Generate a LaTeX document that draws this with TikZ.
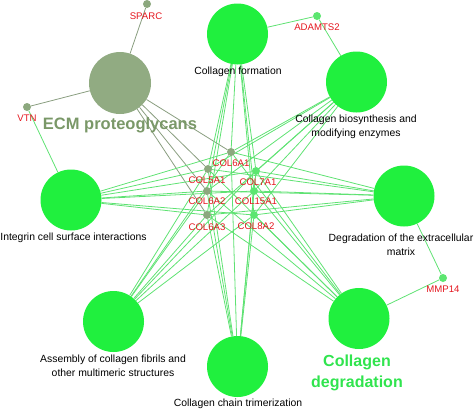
\documentclass[tikz,border=0pt]{standalone}
\usepackage{fontspec}
\setmainfont{Liberation Sans}
\usetikzlibrary{backgrounds}
\definecolor{bigGreen}{RGB}{32,240,62}
\definecolor{ecmGray}{RGB}{145,171,130}
\definecolor{ecmText}{RGB}{122,152,104}
\definecolor{degText}{RGB}{48,228,78}
\definecolor{edgeGreen}{RGB}{95,226,115}
\definecolor{edgeGray}{RGB}{138,158,128}
\definecolor{smallGreen}{RGB}{92,230,112}
\definecolor{smallGray}{RGB}{140,168,126}
\definecolor{geneRed}{RGB}{228,22,30}
\tikzset{
  bigc/.style={circle, minimum size=61pt, inner sep=0pt, fill=bigGreen},
  ecmc/.style={circle, minimum size=62pt, inner sep=0pt, fill=ecmGray},
  gene/.style={circle, minimum size=8pt, inner sep=0pt, fill=smallGreen},
  geneg/.style={circle, minimum size=8pt, inner sep=0pt, fill=smallGray},
  glab/.style={text=geneRed, font=\fontsize{9.6}{11}\selectfont, inner sep=0pt},
  blab/.style={text=black, font=\fontsize{10.4}{13.5}\selectfont, align=center, inner sep=0pt},
  eg/.style={draw=edgeGreen, line width=0.8pt},
  ey/.style={draw=edgeGray, line width=0.8pt},
}
\begin{document}
\begin{tikzpicture}[x=1pt,y=-1pt]
\useasboundingbox (0,0) rectangle (474,410);
% big circles
\node[ecmc] (ecm) at (120,83) {};
\node[bigc] (cf) at (237.5,34) {};
\node[bigc] (cb) at (356.5,82) {};
\node[bigc] (dm) at (404,196) {};
\node[bigc] (cd) at (359,318.5) {};
\node[bigc] (ct) at (237.5,366.5) {};
\node[bigc] (as) at (113.5,321.5) {};
\node[bigc] (ig) at (71,200) {};
% small nodes
\node[geneg] (sparc) at (147,4) {};
\node[geneg] (vtn) at (27,107) {};
\node[gene] (adamts) at (317,16) {};
\node[gene] (mmp) at (443,278) {};
\node[geneg] (g6a1) at (231,152) {};
\node[geneg] (g5a1) at (208,169) {};
\node[gene] (g7a1) at (256,171) {};
\node[geneg] (g6a2) at (207,191) {};
\node[gene] (g15a1) at (254,191) {};
\node[geneg] (g6a3) at (207,215) {};
\node[gene] (g8a2) at (254,215) {};
% gene labels
\node[glab] (lsparc) at (146,16) {SPARC};
\node[glab] (lvtn) at (27,118) {VTN};
\node[glab] (ladamts) at (317,27.5) {ADAMTS2};
\node[glab] (lmmp) at (443,289) {MMP14};
\node[glab] (l6a1) at (231,163) {COL6A1};
\node[glab] (l5a1) at (207,180) {COL5A1};
\node[glab] (l7a1) at (258,182) {COL7A1};
\node[glab] (l6a2) at (207,201.5) {COL6A2};
\node[glab] (l15a1) at (256,201.5) {COL15A1};
\node[glab] (l6a3) at (207,227) {COL6A3};
\node[glab] (l8a2) at (256,226) {COL8A2};
% pathway labels
\node[blab] (lcf) at (238,72) {Collagen formation};
\node[blab] (lcb) at (356,127) {Collagen biosynthesis and\\modifying enzymes};
\node[blab] (ldm) at (401,245) {Degradation of the extracellular\\matrix};
\node[blab] (lct) at (238,404) {Collagen chain trimerization};
\node[blab] (las) at (113,366) {Assembly of collagen fibrils and\\other multimeric structures};
\node[blab] (lig) at (73.5,238) {Integrin cell surface interactions};
\node[text=ecmText, font=\bfseries\fontsize{16.5}{19}\selectfont, inner sep=0pt] (lecm) at (120,125.5) {ECM proteoglycans};
\node[text=degText, font=\bfseries\fontsize{16}{21}\selectfont, align=center, inner sep=0pt] (lcd) at (357,372.5) {Collagen\\degradation};
% edges
\begin{pgfonlayer}{background}
\draw[ey] (sparc) -- (ecm);
\draw[ey] (vtn) -- (ecm);
\draw[eg] (vtn) -- (ig);
\draw[eg] (adamts) -- (cf);
\draw[eg] (adamts) -- (cb);
\draw[eg] (mmp) -- (dm);
\draw[eg] (mmp) -- (cd);
\foreach \g in {g6a1,g5a1,g6a2,g6a3} \draw[ey] (ecm) -- (\g);
\foreach \g in {g6a1,g5a1,g7a1,g6a2,g15a1,g6a3,g8a2}
  \foreach \b in {cf,cb,dm,cd,ct,as,ig}
    \draw[eg] (\g) -- (\b);
\end{pgfonlayer}
\end{tikzpicture}
\end{document}
